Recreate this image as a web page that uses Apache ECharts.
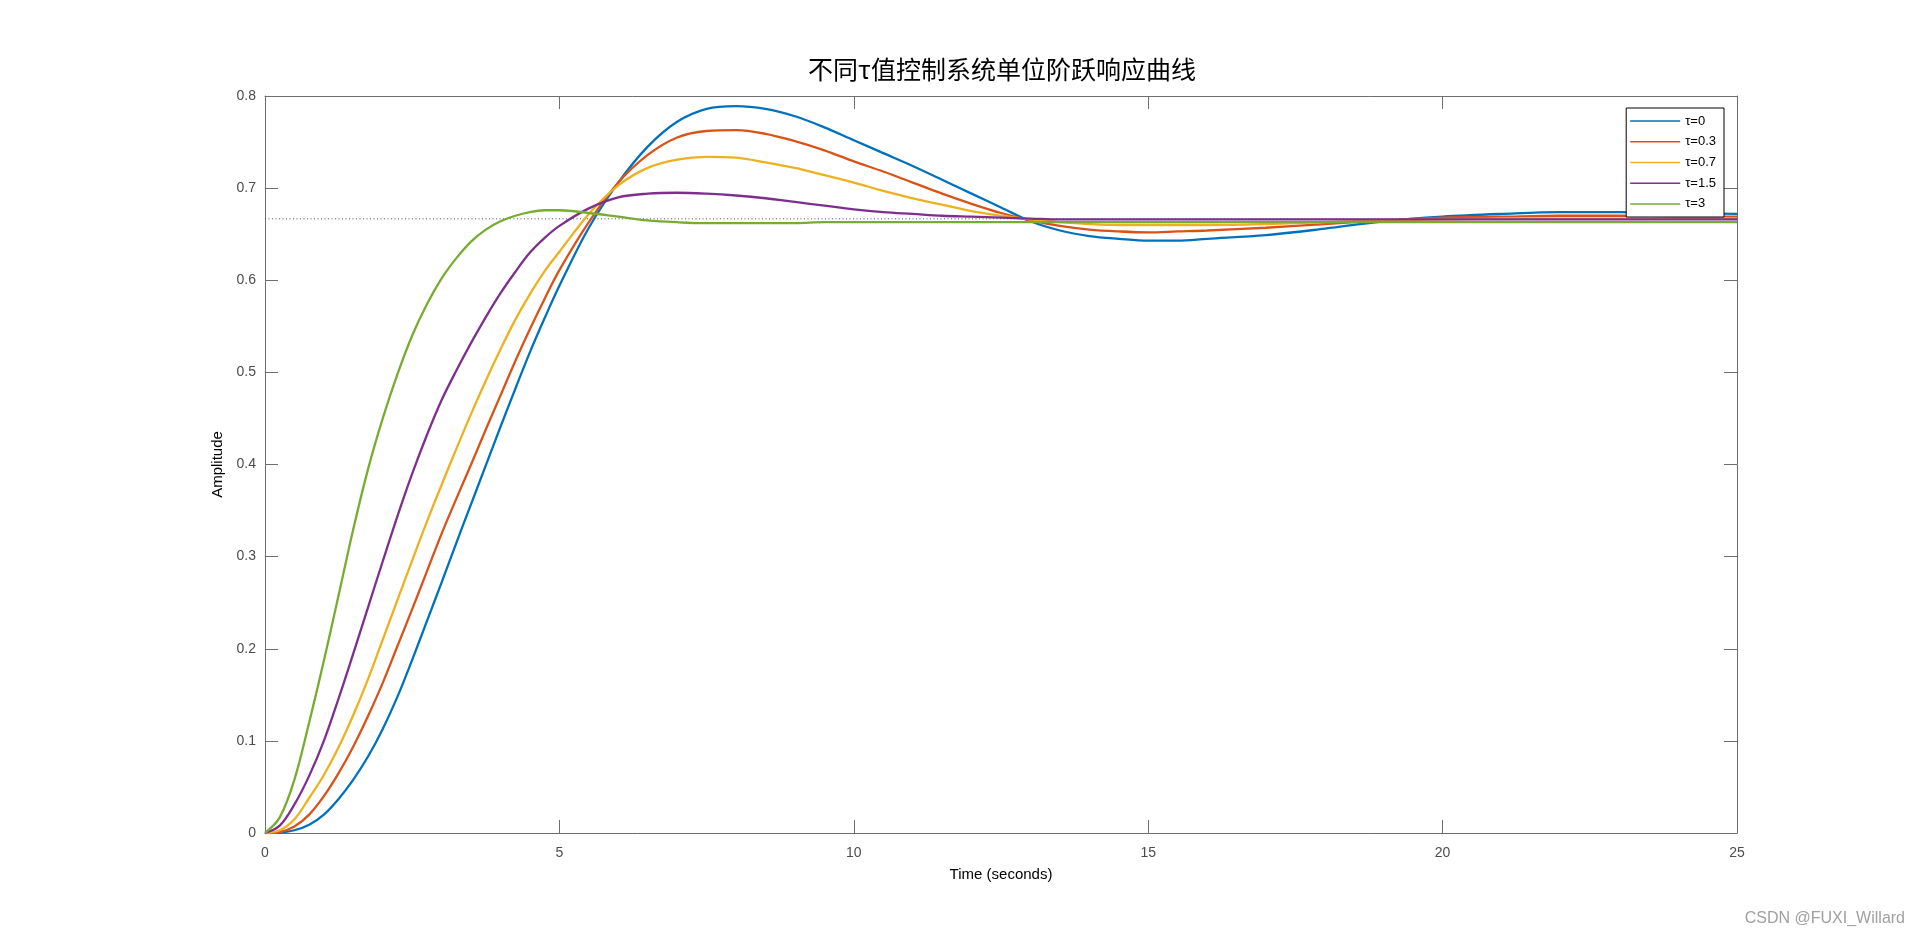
<!DOCTYPE html>
<html>
<head>
<meta charset="utf-8">
<script src="https://cdn.jsdelivr.net/npm/echarts@6/dist/echarts.min.js"></script>
<style>
html,body{margin:0;padding:0;background:#fff;}
#chart{width:1920px;height:937px;}
</style>
</head>
<body>
<div id="chart"></div>
<script>
// ---- data ----
const times = [0,0.25,0.5,0.75,1,1.25,1.5,1.75,2,2.25,2.5,2.75,3,3.25,3.5,3.75,4,4.25,4.5,4.75,5,5.5,6,6.5,7,7.5,8,8.5,9,9.5,10,10.5,11,11.5,12,12.5,13,13.5,14,14.5,15,15.5,16,17,18,19,20,21,22,23,24,25];
const seriesNames = ['τ=0','τ=0.3','τ=0.7','τ=1.5','τ=3'];
const tau0  = [0,0.0004,0.003,0.009,0.02,0.037,0.058,0.083,0.113,0.148,0.188,0.23,0.272,0.315,0.357,0.399,0.441,0.482,0.522,0.559,0.594,0.657,0.706,0.745,0.772,0.786,0.789,0.786,0.778,0.766,0.752,0.738,0.724,0.709,0.694,0.679,0.664,0.654,0.648,0.645,0.643,0.643,0.645,0.649,0.656,0.664,0.669,0.672,0.674,0.674,0.673,0.672];
const tau03 = [0,0.001,0.007,0.02,0.04,0.065,0.094,0.127,0.163,0.203,0.243,0.284,0.325,0.363,0.40,0.438,0.475,0.512,0.547,0.58,0.611,0.663,0.706,0.736,0.755,0.762,0.763,0.759,0.751,0.741,0.729,0.718,0.706,0.694,0.683,0.673,0.665,0.659,0.655,0.653,0.652,0.653,0.654,0.657,0.661,0.665,0.668,0.669,0.670,0.670,0.669,0.669];
const tau07 = [0,0.003,0.015,0.038,0.063,0.093,0.128,0.167,0.21,0.253,0.296,0.338,0.378,0.417,0.455,0.491,0.525,0.557,0.585,0.61,0.631,0.672,0.703,0.722,0.731,0.734,0.733,0.728,0.722,0.714,0.706,0.697,0.689,0.682,0.675,0.670,0.666,0.663,0.661,0.660,0.660,0.660,0.660,0.661,0.663,0.665,0.666,0.667,0.667,0.667,0.667,0.667];
const tau15 = [0,0.008,0.031,0.062,0.1,0.146,0.195,0.245,0.295,0.344,0.39,0.432,0.47,0.502,0.532,0.56,0.586,0.609,0.63,0.646,0.659,0.678,0.69,0.694,0.695,0.694,0.692,0.689,0.685,0.681,0.677,0.674,0.672,0.670,0.669,0.668,0.667,0.666,0.666,0.666,0.666,0.666,0.666,0.666,0.666,0.666,0.666,0.666,0.666,0.666,0.666,0.666];
const tau3  = [0,0.017,0.058,0.12,0.187,0.258,0.33,0.395,0.45,0.498,0.54,0.574,0.602,0.624,0.642,0.655,0.664,0.670,0.674,0.676,0.676,0.673,0.669,0.665,0.663,0.662,0.662,0.662,0.662,0.663,0.663,0.663,0.663,0.663,0.663,0.663,0.663,0.663,0.663,0.663,0.663,0.663,0.663,0.663,0.663,0.663,0.663,0.663,0.663,0.663,0.663,0.663];
const steadyValue = 0.6667;
const xTicks = [0,5,10,15,20,25];
const yTicks = [0,0.1,0.2,0.3,0.4,0.5,0.6,0.7,0.8];
const colors = ['#0072BD','#D95319','#EDB120','#7E2F8E','#77AC30'];

const allValues = [tau0,tau03,tau07,tau15,tau3];
const chart = echarts.init(document.getElementById('chart'));
const axisColor = '#6e6e6e';
const lineSeries = allValues.map((vals,i)=>({
  name: seriesNames[i],
  type:'line',
  data: times.map((t,k)=>[t,vals[k]]),
  showSymbol:false,
  symbol:'none',
  smooth:0.35,
  lineStyle:{color:colors[i],width:2.3},
  itemStyle:{color:colors[i]},
  z: 3
}));
lineSeries.unshift({
  name:'steady',
  type:'line',
  data:[[xTicks[0],steadyValue],[xTicks[xTicks.length-1],steadyValue]],
  symbol:'none',
  lineStyle:{color:'#555',width:1,type:[1,2.5]},
  z:2,
  silent:true
});

const baseX = {type:'value',min:xTicks[0],max:xTicks[xTicks.length-1],interval:5};
const baseY = {type:'value',min:yTicks[0],max:yTicks[yTicks.length-1],interval:0.1};
const tickStyle = {show:true,inside:true,length:13,lineStyle:{color:axisColor}};
const lineStyleAxis = {show:true,onZero:false,lineStyle:{color:axisColor,width:1}};
chart.setOption({
  animation:false,
  backgroundColor:'#fff',
  title:{
    text:'不同τ值控制系统单位阶跃响应曲线',
    left:997, top:52, textAlign:'center',
    textStyle:{fontFamily:'"Noto Sans CJK SC"',fontSize:25,fontWeight:'normal',color:'#000'}
  },
  legend:{
    orient:'vertical',
    right:196, top:108,
    data: seriesNames,
    icon:'rect',
    itemWidth:50, itemHeight:1.5,
    itemGap:6.5,
    padding:[6,8,6,4],
    backgroundColor:'#fff',
    borderColor:'#000',borderWidth:1,
    textStyle:{fontFamily:'Arial, "Liberation Sans"',fontSize:13,color:'#000',lineHeight:14.2},
    selectedMode:false
  },
  grid:{left:265,right:183,top:96,bottom:104,containLabel:false},
  xAxis:[
    Object.assign({},baseX,{
      position:'bottom',
      name:'Time (seconds)',nameLocation:'middle',nameGap:34,
      nameTextStyle:{fontFamily:'Arial, "Liberation Sans"',fontSize:15,color:'#000'},
      axisLine:lineStyleAxis,
      axisTick:tickStyle,
      axisLabel:{fontFamily:'Arial, "Liberation Sans"',fontSize:14,color:'#4d4d4d',margin:13},
      splitLine:{show:false}
    }),
    Object.assign({},baseX,{
      position:'top',
      axisLine:lineStyleAxis,
      axisTick:tickStyle,
      axisLabel:{show:false},
      splitLine:{show:false}
    })
  ],
  yAxis:[
    Object.assign({},baseY,{
      position:'left',
      name:'Amplitude',nameLocation:'middle',nameGap:31,nameRotate:90,
      nameTextStyle:{fontFamily:'Arial, "Liberation Sans"',fontSize:15,color:'#000'},
      axisLine:lineStyleAxis,
      axisTick:tickStyle,
      axisLabel:{fontFamily:'Arial, "Liberation Sans"',fontSize:14,color:'#4d4d4d',margin:9,
        formatter:v=>String(Math.round(v*10)/10)},
      splitLine:{show:false}
    }),
    Object.assign({},baseY,{
      position:'right',
      axisLine:lineStyleAxis,
      axisTick:tickStyle,
      axisLabel:{show:false},
      splitLine:{show:false}
    })
  ],
  series: lineSeries,
  graphic:[{
    type:'text',
    right:15, top:911,
    style:{text:'CSDN @FUXI_Willard',fontFamily:'Arial, "Liberation Sans"',fontSize:16,fill:'#a0a0a0'}
  }]
});
</script>
</body>
</html>
